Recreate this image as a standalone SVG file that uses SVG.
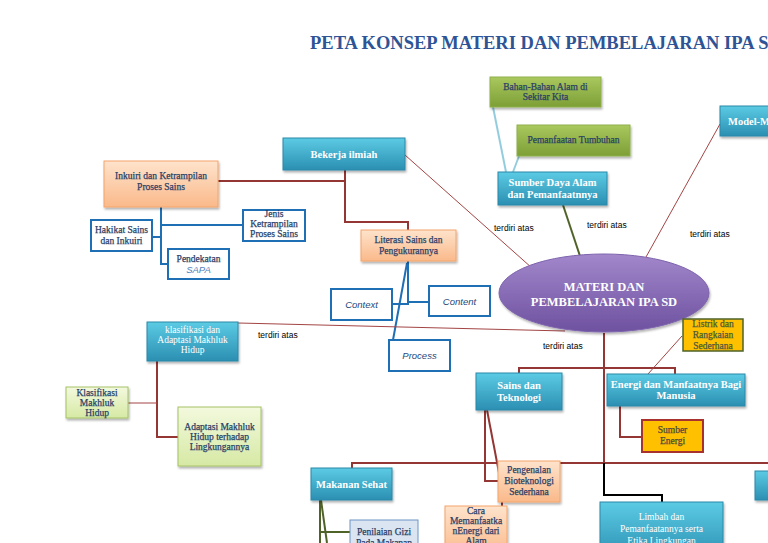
<svg xmlns="http://www.w3.org/2000/svg" width="768" height="543" viewBox="0 0 768 543">
<defs>
<linearGradient id="gTeal" x1="0" y1="0" x2="0" y2="1"><stop offset="0" stop-color="#5ccbe4"/><stop offset="1" stop-color="#2b8fb2"/></linearGradient>
<linearGradient id="gOr" x1="0" y1="0" x2="0" y2="1"><stop offset="0" stop-color="#fee3cc"/><stop offset="1" stop-color="#fab98a"/></linearGradient>
<linearGradient id="gGr" x1="0" y1="0" x2="0" y2="1"><stop offset="0" stop-color="#a9c85e"/><stop offset="1" stop-color="#7d9f36"/></linearGradient>
<linearGradient id="gLg" x1="0" y1="0" x2="0" y2="1"><stop offset="0" stop-color="#f3f9de"/><stop offset="1" stop-color="#d6e9a4"/></linearGradient>
<linearGradient id="gPu" x1="0" y1="0" x2="0" y2="1"><stop offset="0" stop-color="#a287cb"/><stop offset="1" stop-color="#6e51a0"/></linearGradient>
<filter id="sh" x="-10%" y="-10%" width="130%" height="140%"><feDropShadow dx="1" dy="2" stdDeviation="1.2" flood-color="#000" flood-opacity="0.3"/></filter>
<style>
.teal{fill:url(#gTeal);stroke:#2a88a8;stroke-width:1;filter:url(#sh)}
.or{fill:url(#gOr);stroke:#f4a46a;stroke-width:1;filter:url(#sh)}
.gr{fill:url(#gGr);stroke:#8fb04a;stroke-width:1;filter:url(#sh)}
.lg{fill:url(#gLg);stroke:#a6c266;stroke-width:1;filter:url(#sh)}
.wb{fill:#fff;stroke:#1f6fb5;stroke-width:2}
.tt{font-family:"Liberation Serif",serif;font-weight:bold;font-size:10.5px;fill:#fff;text-anchor:middle}
.tr{font-family:"Liberation Serif",serif;font-size:9.5px;fill:#fff;text-anchor:middle}
.st{font-family:"Liberation Serif",serif;font-size:9.5px;fill:#2a3f66;stroke:#2a3f66;stroke-width:0.25;text-anchor:middle}
.it{font-family:"Liberation Sans",sans-serif;font-style:italic;font-size:9.5px;fill:#1f497d;text-anchor:middle}
.lbl{font-family:"Liberation Sans",sans-serif;font-size:8.5px;fill:#000}
.red{stroke:#943634;stroke-width:2;fill:none}
.tred{stroke:#a34444;stroke-width:1;fill:none}
.blue{stroke:#1f6fb5;stroke-width:2;fill:none}
.olive{stroke:#4f6228;stroke-width:2;fill:none}
.lb{stroke:#93cddd;stroke-width:2;fill:none}
</style>
</defs>
<rect width="768" height="543" fill="#fff"/>
<text x="310" y="49" font-family="'Liberation Serif',serif" font-weight="bold" font-size="18.5" fill="#2f5496">PETA KONSEP MATERI DAN PEMBELAJARAN IPA SD</text>

<g id="connectors">
<polyline class="red" points="218,181 345,181 345,170"/>
<polyline class="red" points="345,181 345,222 408,222 408,230"/>
<line class="tred" x1="405" y1="155" x2="532" y2="268"/>
<line class="olive" x1="563" y1="205" x2="580" y2="256"/>
<line class="lb" x1="493" y1="107" x2="506" y2="172"/>
<line class="lb" x1="519" y1="156" x2="513" y2="172"/>
<line class="tred" x1="720" y1="124" x2="646" y2="257"/>
<polyline class="blue" points="161,207 161,264 168,264"/>
<line class="blue" x1="161" y1="225" x2="243" y2="225"/>
<line class="blue" x1="152" y1="237" x2="161" y2="237"/>
<polyline class="blue" points="408,261 408,304 392,304"/>
<line class="blue" x1="408" y1="302" x2="429" y2="302"/>
<line class="blue" x1="407" y1="263" x2="393" y2="340"/>
<line class="tred" x1="238" y1="323" x2="565" y2="331"/>
<polyline class="red" points="157,361 157,437 178,437"/>
<line class="tred" x1="128" y1="403" x2="157" y2="403"/>
<line class="red" x1="604" y1="333" x2="604" y2="463"/>
<polyline class="red" points="519,373 519,368 675,368 675,374"/>
<line class="tred" x1="682" y1="336" x2="648" y2="374"/>
<polyline class="red" points="620,406 620,437 642,437"/>
<polyline class="red" points="352,468 352,463 768,463"/>
<polyline stroke="#000" stroke-width="2" fill="none" points="604,463 604,495 662,495 662,502"/>
<polyline class="red" points="485,410 485,481 498,481"/>
<line class="red" x1="487" y1="410" x2="500" y2="478"/>
<line class="red" x1="502" y1="502" x2="502" y2="506"/>
<line class="olive" x1="320" y1="500" x2="320" y2="543"/>
<line class="olive" x1="321" y1="500" x2="327" y2="543"/>
<line class="olive" x1="320" y1="532" x2="350" y2="532"/>
</g>

<g id="labels">
<text class="lbl" x="494" y="231">terdiri atas</text>
<text class="lbl" x="587" y="228">terdiri atas</text>
<text class="lbl" x="690" y="237">terdiri atas</text>
<text class="lbl" x="258" y="338">terdiri atas</text>
<text class="lbl" x="543" y="349">terdiri atas</text>
</g>

<g id="n-bahan"><rect class="gr" x="490" y="77" width="111" height="30"/><text class="st" x="545.5" y="90"><tspan x="545.5">Bahan-Bahan Alam di</tspan><tspan x="545.5" dy="10">Sekitar Kita</tspan></text></g>
<g id="n-tumbuhan"><rect class="gr" x="517" y="125" width="113" height="31"/><text class="st" x="573.5" y="143">Pemanfaatan Tumbuhan</text></g>
<g id="n-sda"><rect class="teal" x="498" y="172" width="109" height="33"/><text class="tt" x="552.5" y="186"><tspan x="552.5">Sumber Daya Alam</tspan><tspan x="552.5" dy="12">dan Pemanfaatnnya</tspan></text></g>
<g id="n-model"><rect class="teal" x="720" y="106" width="70" height="30"/><text class="tt" x="728" y="125" style="text-anchor:start">Model-M</text></g>
<g id="n-bekerja"><rect class="teal" x="283" y="138" width="122" height="32"/><text class="tt" x="344" y="158">Bekerja ilmiah</text></g>
<g id="n-inkuiri"><rect class="or" x="104" y="161" width="114" height="46"/><text class="st" x="161" y="179"><tspan x="161">Inkuiri dan Ketrampilan</tspan><tspan x="161" dy="11">Proses Sains</tspan></text></g>
<g id="n-hakikat"><rect class="wb" x="91" y="220" width="61" height="31"/><text class="st" x="121.5" y="233"><tspan x="121.5">Hakikat Sains</tspan><tspan x="121.5" dy="11">dan Inkuiri</tspan></text></g>
<g id="n-jenis"><rect class="wb" x="243" y="210" width="62" height="31"/><text class="st" x="274" y="217"><tspan x="274">Jenis</tspan><tspan x="274" dy="10">Ketrampilan</tspan><tspan x="274" dy="10">Proses Sains</tspan></text></g>
<g id="n-sapa"><rect class="wb" x="168" y="249" width="61" height="30"/><text class="st" x="198.5" y="262"><tspan x="198.5">Pendekatan</tspan><tspan x="198.5" dy="11" font-style="italic" style="font-family:'Liberation Sans',sans-serif;fill:#4f81bd;stroke:none">SAPA</tspan></text></g>
<g id="n-literasi"><rect class="or" x="361" y="230" width="95" height="31"/><text class="st" x="408.5" y="243"><tspan x="408.5">Literasi Sains dan</tspan><tspan x="408.5" dy="11">Pengukurannya</tspan></text></g>
<g id="n-context"><rect class="wb" x="331" y="289" width="61" height="31"/><text class="it" x="361.5" y="308">Context</text></g>
<g id="n-content"><rect class="wb" x="429" y="286" width="61" height="30"/><text class="it" x="459.5" y="305">Content</text></g>
<g id="n-process"><rect class="wb" x="389" y="340" width="61" height="31"/><text class="it" x="419.5" y="359">Process</text></g>
<g id="n-materi"><ellipse cx="604" cy="293" rx="105" ry="39" fill="url(#gPu)" stroke="#7e63ad" stroke-width="1" filter="url(#sh)"/><text font-family="'Liberation Serif',serif" font-weight="bold" font-size="12.5" fill="#fff" text-anchor="middle"><tspan x="604" y="291">MATERI DAN</tspan><tspan x="604" dy="15">PEMBELAJARAN IPA SD</tspan></text></g>
<g id="n-listrik"><rect x="683" y="319" width="60" height="32" fill="#ffc000" stroke="#4f6228" stroke-width="1.5"/><text class="st" x="713" y="327" style="fill:#4a5a3a;stroke:#4a5a3a"><tspan x="713">Listrik dan</tspan><tspan x="713" dy="11">Rangkaian</tspan><tspan x="713" dy="11">Sederhana</tspan></text></g>
<g id="n-klasadapt"><rect class="teal" x="147" y="322" width="91" height="39"/><text class="tr" x="192.5" y="333"><tspan x="192.5">klasifikasi dan</tspan><tspan x="192.5" dy="10">Adaptasi Makhluk</tspan><tspan x="192.5" dy="10">Hidup</tspan></text></g>
<g id="n-klasifikasi"><rect class="lg" x="66" y="387" width="62" height="31"/><text class="st" x="97" y="396"><tspan x="97">Klasifikasi</tspan><tspan x="97" dy="10">Makhluk</tspan><tspan x="97" dy="10">Hidup</tspan></text></g>
<g id="n-adaptasi"><rect class="lg" x="178" y="407" width="83" height="59"/><text class="st" x="219.5" y="430"><tspan x="219.5">Adaptasi Makhluk</tspan><tspan x="219.5" dy="10">Hidup terhadap</tspan><tspan x="219.5" dy="10">Lingkungannya</tspan></text></g>
<g id="n-sainstek"><rect class="teal" x="476" y="373" width="86" height="37"/><text class="tt" x="519" y="389"><tspan x="519">Sains dan</tspan><tspan x="519" dy="12">Teknologi</tspan></text></g>
<g id="n-energi"><rect class="teal" x="607" y="374" width="138" height="32"/><text class="tt" x="676" y="388"><tspan x="676">Energi dan Manfaatnya Bagi</tspan><tspan x="676" dy="11">Manusia</tspan></text></g>
<g id="n-sumberenergi"><rect x="642" y="420" width="61" height="32" fill="#ffc000" stroke="#a8322d" stroke-width="2"/><text class="st" x="672.5" y="433" style="fill:#4a4a3a;stroke:#4a4a3a"><tspan x="672.5">Sumber</tspan><tspan x="672.5" dy="11">Energi</tspan></text></g>
<g id="n-bioteknologi"><rect class="or" x="498" y="461" width="62" height="41"/><text class="st" x="529" y="473"><tspan x="529">Pengenalan</tspan><tspan x="529" dy="11">Bioteknologi</tspan><tspan x="529" dy="11">Sederhana</tspan></text></g>
<g id="n-makanan"><rect class="teal" x="311" y="468" width="81" height="32"/><text class="tt" x="351.5" y="488">Makanan Sehat</text></g>
<g id="n-cara"><rect class="or" x="445" y="506" width="62" height="50"/><text class="st" x="476" y="514"><tspan x="476">Cara</tspan><tspan x="476" dy="10">Memanfaatka</tspan><tspan x="476" dy="10">nEnergi dari</tspan><tspan x="476" dy="10">Alam</tspan></text></g>
<g id="n-penilaian"><rect x="350" y="520" width="68" height="40" fill="#dbe5f1" stroke="#6f94c8" stroke-width="1"/><text class="st" x="384" y="535"><tspan x="384">Penilaian Gizi</tspan><tspan x="384" dy="11">Pada Makanan</tspan></text></g>
<g id="n-limbah"><rect class="teal" x="600" y="502" width="123" height="58"/><text class="tr" x="661.5" y="520" font-size="10"><tspan x="661.5">Limbah dan</tspan><tspan x="661.5" dy="12">Pemanfaatannya serta</tspan><tspan x="661.5" dy="12">Etika Lingkungan</tspan></text></g>
<g id="n-right"><rect class="teal" x="755" y="471" width="40" height="29"/></g>
</svg>
